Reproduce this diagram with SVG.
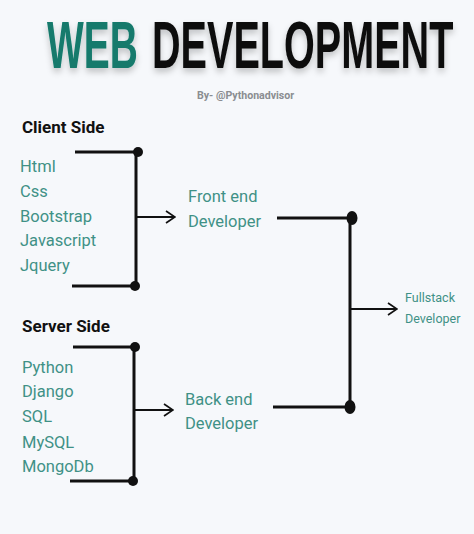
<svg xmlns="http://www.w3.org/2000/svg" width="474" height="534" viewBox="0 0 474 534">
<defs>
<style>
.bg{fill:#f6f8fb}
.title{font-family:"Liberation Sans",Arial,sans-serif;font-weight:bold;font-size:66px}
.by{font-family:Roboto,"Liberation Sans",sans-serif;font-weight:bold;font-size:10.6px;fill:#8a8d91}
.head{font-family:Roboto,"Liberation Sans",sans-serif;font-weight:bold;font-size:17px;fill:#111}
.item{font-family:Roboto,"Liberation Sans",sans-serif;font-size:16.5px;fill:#3f9186}
.small{font-family:Roboto,"Liberation Sans",sans-serif;font-size:12.5px;fill:#3f9186}
.ln{stroke:#111;stroke-width:3;fill:none}
.ar{stroke:#111;stroke-width:1.8;fill:none}
.dot{fill:#111}
</style>
<filter id="sh" x="-5%" y="-20%" width="110%" height="150%">
<feDropShadow dx="0" dy="4" stdDeviation="3" flood-color="#000" flood-opacity="0.22"/>
</filter>
<marker id="chev" viewBox="0 0 12 14" refX="11" refY="7" markerWidth="12" markerHeight="14" markerUnits="userSpaceOnUse" orient="auto">
<path d="M2,1 L11,7 L2,13" fill="none" stroke="#111" stroke-width="1.7"/>
</marker>
</defs>
<rect class="bg" x="0" y="0" width="474" height="534"/>
<g id="title" filter="url(#sh)">
<text class="title" transform="translate(47,68) scale(0.59,1)" x="0" y="0" fill="#137a6c">WEB</text>
<text class="title" transform="translate(152,68) scale(0.6,1)" x="0" y="0" fill="#0d0d0d">DEVELOPMENT</text>
</g>
<text class="by" x="197" y="99">By- @Pythonadvisor</text>

<g id="client">
<text class="head" x="22" y="133">Client Side</text>
<text class="item" x="20" y="172">Html</text>
<text class="item" x="20" y="197">Css</text>
<text class="item" x="20" y="222">Bootstrap</text>
<text class="item" x="20" y="246">Javascript</text>
<text class="item" x="20" y="271">Jquery</text>
</g>
<g id="server">
<text class="head" x="22" y="332">Server Side</text>
<text class="item" x="22" y="373">Python</text>
<text class="item" x="22" y="397">Django</text>
<text class="item" x="22" y="422">SQL</text>
<text class="item" x="22" y="448">MySQL</text>
<text class="item" x="22" y="472">MongoDb</text>
</g>
<g id="frontend">
<text class="item" x="188" y="202">Front end</text>
<text class="item" x="188" y="227">Developer</text>
</g>
<g id="backend">
<text class="item" x="185" y="405">Back end</text>
<text class="item" x="185" y="429">Developer</text>
</g>
<g id="fullstack">
<text class="small" x="405" y="302">Fullstack</text>
<text class="small" x="405" y="323">Developer</text>
</g>

<g id="connectors">
<path class="ln" d="M75,152 H138 M136,152 V286 M72,286 H135"/>
<circle class="dot" cx="138" cy="152" r="5"/>
<circle class="dot" cx="135" cy="286" r="5"/>
<line class="ar" x1="137" y1="217" x2="175" y2="217" marker-end="url(#chev)"/>

<path class="ln" d="M73,347 H135 M134,347 V481 M70,481 H133"/>
<circle class="dot" cx="135" cy="347" r="5"/>
<circle class="dot" cx="133" cy="481" r="5"/>
<line class="ar" x1="134" y1="410" x2="173" y2="410" marker-end="url(#chev)"/>

<path class="ln" d="M277,218 H352 M350,218 V407 M273,407 H350"/>
<ellipse class="dot" cx="352" cy="218" rx="5.5" ry="7"/>
<ellipse class="dot" cx="350" cy="407" rx="5.5" ry="7"/>
<line class="ar" x1="350" y1="309" x2="397" y2="309" marker-end="url(#chev)"/>
</g>
</svg>
